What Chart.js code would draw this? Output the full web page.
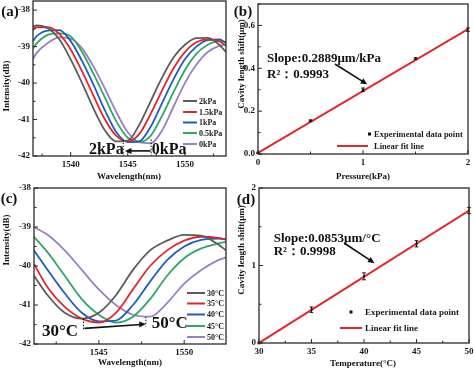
<!DOCTYPE html>
<html>
<head>
<meta charset="utf-8">
<script src="https://cdn.jsdelivr.net/npm/chart.js@4.4.1/dist/chart.umd.min.js"></script>
<style>
  html, body { margin: 0; padding: 0; background: #fff; }
  #wrap { position: relative; width: 474px; height: 370px; overflow: hidden; }
  #wrap canvas { position: absolute; left: 0; top: 0; }
</style>
</head>
<body>
<div id="wrap">
  <canvas id="pa" width="474" height="370"></canvas>
  <canvas id="pb" width="474" height="370"></canvas>
  <canvas id="pc" width="474" height="370"></canvas>
  <canvas id="pd" width="474" height="370"></canvas>
</div>
<script>
var FONT = '"Liberation Serif", "Times New Roman", serif';

// (a) spectra under pressure
var wlA = [1536.7, 1537, 1538, 1539, 1540, 1541, 1542, 1543, 1544, 1545, 1546, 1547, 1548, 1549, 1550, 1551, 1552, 1553, 1553.6];
var pressureLabels = ['2kPa', '1.5kPa', '1kPa', '0.5kPa', '0kPa'];
var pa2  = [-38.45, -38.42, -38.5, -38.8, -39.35, -40.0, -40.7, -41.3, -41.6, -41.58, -41.15, -40.5, -39.85, -39.3, -38.95, -38.77, -38.76, -38.95, -39.15];
var pa15 = [-38.55, -38.47, -38.47, -38.65, -39.08, -39.68, -40.35, -41.0, -41.45, -41.6, -41.4, -40.85, -40.2, -39.6, -39.15, -38.88, -38.8, -38.85, -38.98];
var pa1  = [-38.85, -38.72, -38.56, -38.55, -38.85, -39.4, -40.05, -40.75, -41.35, -41.62, -41.6, -41.2, -40.55, -39.9, -39.35, -39.0, -38.82, -38.8, -38.9];
var pa05 = [-39.05, -38.92, -38.68, -38.64, -38.72, -39.15, -39.75, -40.4, -41.05, -41.5, -41.62, -41.45, -40.9, -40.25, -39.65, -39.2, -38.95, -38.85, -38.87];
var pa0  = [-39.35, -39.18, -38.9, -38.75, -38.78, -39.05, -39.55, -40.15, -40.8, -41.35, -41.62, -41.65, -41.3, -40.65, -40.0, -39.5, -39.15, -38.98, -38.95];
var xTicksA = [1540, 1545, 1550];
var yTicksA = [-42, -41, -40, -39, -38];

// (b) cavity shift vs pressure
var pressure = [0, 0.5, 1, 1.5, 2];
var shiftP = [0.005, 0.155, 0.300, 0.445, 0.580];
var errP = [0.003, 0.004, 0.008, 0.004, 0.008];
var fitPx = [0, 2];
var fitPy = [0.005, 0.583];
var xTicksB = [0, 1, 2];
var yTicksB = [0, 0.2, 0.4, 0.6];

// (c) spectra under temperature
var wlC = [1541.2, 1542, 1543, 1544, 1545, 1546, 1547, 1548, 1549, 1550, 1551, 1552, 1552.45];
var tempLabels = ['30°C', '35°C', '40°C', '45°C', '50°C'];
var tc30 = [-40.25, -40.75, -41.2, -41.35, -41.2, -40.75, -40.1, -39.6, -39.35, -39.2, -39.22, -39.45, -39.6];
var tc35 = [-39.95, -40.55, -41.05, -41.35, -41.45, -41.2, -40.6, -40.0, -39.6, -39.35, -39.25, -39.28, -39.32];
var tc40 = [-39.6, -40.1, -40.7, -41.2, -41.42, -41.4, -41.0, -40.4, -39.85, -39.5, -39.33, -39.3, -39.32];
var tc45 = [-39.25, -39.65, -40.25, -40.85, -41.25, -41.45, -41.3, -40.85, -40.25, -39.8, -39.55, -39.42, -39.38];
var tc50 = [-39.0, -39.2, -39.6, -40.1, -40.6, -41.0, -41.25, -41.3, -40.95, -40.45, -40.1, -39.85, -39.78];
var xTicksC = [1545, 1550];
var yTicksC = [-42, -41, -40, -39, -38];

// (d) cavity shift vs temperature
var temps = [30, 35, 40, 45, 50];
var shiftT = [0, 0.43, 0.86, 1.28, 1.71];
var errT = [0.01, 0.035, 0.045, 0.04, 0.04];
var fitTx = [30, 50];
var fitTy = [0, 1.71];
var xTicksD = [30, 35, 40, 45, 50];
var yTicksD = [0, 1, 2];

var lineColors = ['#5c5c5c', '#e3262b', '#1f5cbf', '#2ea66a', '#9a80c3'];
var RED = '#e3262b';

function pts(xs, ys) {
  return xs.map(function (x, i) { return { x: x, y: ys[i] }; });
}

function bold(size) { return 'bold ' + size + 'px ' + FONT; }

function axes(xr, yr, xt, yt, xh, yw, xfmt, yfmt) {
  var tickFont = { family: FONT, weight: 'bold', size: 9 };
  return {
    x: {
      type: 'linear', min: xr[0], max: xr[1],
      afterBuildTicks: function (s) { s.ticks = xt.map(function (v) { return { value: v }; }); },
      afterFit: function (s) { s.height = xh; s.paddingLeft = 0; s.paddingRight = 0; },
      grid: { display: false, drawTicks: false }, border: { display: false },
      ticks: { padding: 3, color: '#1a1a1a', font: tickFont, maxRotation: 0, autoSkip: false, callback: xfmt }
    },
    y: {
      type: 'linear', min: yr[0], max: yr[1],
      afterBuildTicks: function (s) { s.ticks = yt.map(function (v) { return { value: v }; }); },
      afterFit: function (s) { s.width = yw; s.paddingTop = 0; s.paddingBottom = 0; },
      grid: { display: false, drawTicks: false }, border: { display: false },
      ticks: { padding: 3, color: '#1a1a1a', font: tickFont, autoSkip: false, callback: yfmt }
    }
  };
}

function arrow(ctx, x1, y1, x2, y2) {
  var ang = Math.atan2(y2 - y1, x2 - x1), L = 6.5, W = 3;
  ctx.beginPath();
  ctx.moveTo(x1, y1);
  ctx.lineTo(x2 - L * 0.7 * Math.cos(ang), y2 - L * 0.7 * Math.sin(ang));
  ctx.stroke();
  ctx.beginPath();
  ctx.moveTo(x2, y2);
  ctx.lineTo(x2 - L * Math.cos(ang) + W * Math.sin(ang), y2 - L * Math.sin(ang) - W * Math.cos(ang));
  ctx.lineTo(x2 - L * Math.cos(ang) - W * Math.sin(ang), y2 - L * Math.sin(ang) + W * Math.cos(ang));
  ctx.closePath();
  ctx.fill();
}

// frame, inward ticks, error bars, legends and notes
var deco = {
  id: 'deco',
  afterDatasetsDraw: function (chart, args, o) {
    var ctx = chart.ctx, a = chart.chartArea, sx = chart.scales.x, sy = chart.scales.y;
    ctx.save();
    ctx.strokeStyle = '#111'; ctx.fillStyle = '#111';

    if (o.err) {
      ctx.lineWidth = 1;
      o.err.x.forEach(function (xv, i) {
        var px = sx.getPixelForValue(xv);
        var p1 = sy.getPixelForValue(o.err.y[i] - o.err.e[i]);
        var p2 = sy.getPixelForValue(o.err.y[i] + o.err.e[i]);
        ctx.beginPath();
        ctx.moveTo(px, p1); ctx.lineTo(px, p2);
        ctx.moveTo(px - 1.8, p1); ctx.lineTo(px + 1.8, p1);
        ctx.moveTo(px - 1.8, p2); ctx.lineTo(px + 1.8, p2);
        ctx.stroke();
      });
    }

    ctx.strokeStyle = '#2a2a2a';
    ctx.lineWidth = 1.3;
    ctx.strokeRect(a.left, a.top, a.right - a.left, a.bottom - a.top);

    ctx.lineWidth = 1;
    function ticks(scale, step, horiz) {
      var start = Math.ceil((scale.min - 1e-9) / step) * step;
      for (var v = start; v <= scale.max + 1e-9; v += step) {
        var major = scale.ticks.some(function (t) { return Math.abs(t.value - v) < 1e-6; });
        var len = major ? 4 : 2.5;
        var p = scale.getPixelForValue(v);
        ctx.beginPath();
        if (horiz) { ctx.moveTo(p, a.bottom); ctx.lineTo(p, a.bottom - len); }
        else { ctx.moveTo(a.left, p); ctx.lineTo(a.left + len, p); }
        ctx.stroke();
      }
    }
    ticks(sx, o.xMinor, true);
    ticks(sy, o.yMinor, false);

    ctx.strokeStyle = '#111';
    (o.dotted || []).forEach(function (d) {
      ctx.save();
      ctx.setLineDash([1.5, 1.5]);
      ctx.lineWidth = 1;
      var px = sx.getPixelForValue(d[0]);
      ctx.beginPath();
      ctx.moveTo(px, sy.getPixelForValue(d[1]));
      ctx.lineTo(px, sy.getPixelForValue(d[2]));
      ctx.stroke();
      ctx.restore();
    });

    ctx.lineWidth = 1.6;
    (o.arrows || []).forEach(function (r) {
      arrow(ctx, sx.getPixelForValue(r[0]), sy.getPixelForValue(r[1]),
        sx.getPixelForValue(r[2]), sy.getPixelForValue(r[3]));
    });

    ctx.textAlign = 'left';
    ctx.textBaseline = 'alphabetic';
    (o.notes || []).forEach(function (n) {
      ctx.font = bold(n.size);
      ctx.fillText(n.t, sx.getPixelForValue(n.x), sy.getPixelForValue(n.y));
    });

    if (o.legend) {
      var L = o.legend;
      ctx.font = bold(L.size);
      ctx.textBaseline = 'middle';
      L.rows.forEach(function (ry, i) {
        var ds = chart.data.datasets[L.order[i]];
        if (ds.showLine) {
          ctx.strokeStyle = ds.borderColor;
          ctx.lineWidth = 2;
          ctx.beginPath(); ctx.moveTo(L.x1, ry); ctx.lineTo(L.x2, ry); ctx.stroke();
        } else {
          ctx.fillStyle = '#111';
          ctx.fillRect((L.x1 + L.x2) / 2 - 1.5 + (L.dotShift || 0), ry - 1.5, 3, 3);
        }
        ctx.fillStyle = '#1a1a1a';
        ctx.fillText(ds.label, L.tx, ry + 0.5);
      });
    }

    ctx.fillStyle = '#111';
    ctx.textBaseline = 'middle';
    ctx.textAlign = 'center';
    (o.labels || []).forEach(function (l) {
      ctx.save();
      ctx.font = bold(l.size);
      ctx.translate(l.x, l.y);
      if (l.rot) ctx.rotate(-Math.PI / 2);
      ctx.fillText(l.t, 0, 0);
      ctx.restore();
    });
    ctx.restore();
  }
};

function curveSets(xs, series, names) {
  return series.map(function (s, i) {
    return {
      label: names[i], data: pts(xs, s), showLine: true,
      borderColor: lineColors[i], borderWidth: 1.8, pointRadius: 0,
      cubicInterpolationMode: 'monotone'
    };
  });
}

function base(pad, scales, decoOpts, datasets) {
  return {
    type: 'scatter',
    data: { datasets: datasets },
    options: {
      responsive: false, animation: false, events: [],
      layout: { padding: pad },
      scales: scales,
      plugins: { legend: { display: false }, tooltip: { enabled: false }, deco: decoOpts }
    },
    plugins: [deco]
  };
}

var fmtInt = function (v) { return String(v); };
var fmtOne = function (v) { return v.toFixed(1); };

// (a)
new Chart(document.getElementById('pa'), base(
  { left: 0, top: 1, right: 248, bottom: 185 },
  axes([1536.7, 1553.6], [-42, -37.75], xTicksA, yTicksA, 29, 33, fmtInt, fmtInt),
  {
    xMinor: 2.5, yMinor: 0.5,
    dotted: [[1544.6, -41.55, -41.98], [1547.05, -41.55, -41.98]],
    arrows: [[1547.0, -41.86, 1544.75, -41.86]],
    notes: [
      { t: '2kPa', x: 1541.6, y: -41.95, size: 16 },
      { t: '0kPa', x: 1547.1, y: -41.95, size: 16 }
    ],
    legend: { x1: 183, x2: 197, tx: 199, size: 8, rows: [101, 112, 122.5, 133, 144], order: [0, 1, 2, 3, 4] },
    labels: [
      { t: '(a)', x: 10, y: 12, size: 15 },
      { t: 'Wavelength(nm)', x: 129, y: 177, size: 9 },
      { t: 'Intensity(dB)', x: 7, y: 86, size: 9, rot: true }
    ]
  },
  curveSets(wlA, [pa2, pa15, pa1, pa05, pa0], pressureLabels)
));

// (b)
new Chart(document.getElementById('pb'), base(
  { left: 237, top: 1, right: 6, bottom: 187 },
  axes([0, 2], [0, 0.7], xTicksB, yTicksB, 29, 21, fmtInt, fmtOne),
  {
    xMinor: 0.5, yMinor: 0.1,
    err: { x: pressure, y: shiftP, e: errP },
    arrows: [[0.733, 0.42, 1.04, 0.325]],
    notes: [
      { t: 'Slope:0.2889μm/kPa', x: 0.086, y: 0.43, size: 13 },
      { t: 'R²：0.9993', x: 0.086, y: 0.357, size: 13 }
    ],
    legend: { x1: 337, x2: 368, tx: 374, size: 8.5, rows: [134, 146], order: [0, 1], dotShift: 17 },
    labels: [
      { t: '(b)', x: 243, y: 12, size: 15 },
      { t: 'Pressure(kPa)', x: 363, y: 177, size: 9 },
      { t: 'Cavity length shift(μm)', x: 242, y: 64, size: 9, rot: true }
    ]
  },
  [
    { label: 'Experimental data point', data: pts(pressure, shiftP), pointStyle: 'rect',
      pointRadius: 1.6, backgroundColor: '#111', borderColor: '#111', borderWidth: 0 },
    { label: 'Linear fit line', data: pts(fitPx, fitPy), showLine: true, borderColor: RED,
      borderWidth: 2, pointRadius: 0 }
  ]
));

// (c)
new Chart(document.getElementById('pc'), base(
  { left: 0, top: 188, right: 248, bottom: 0 },
  axes([1541.2, 1552.45], [-42, -38], xTicksC, yTicksC, 26, 34, fmtInt, fmtInt),
  {
    xMinor: 2.5, yMinor: 0.5,
    dotted: [[1544.1, -41.35, -41.62], [1547.75, -41.3, -41.55]],
    arrows: [[1544.15, -41.6, 1547.75, -41.49]],
    notes: [
      { t: '30°C', x: 1541.67, y: -41.79, size: 17 },
      { t: '50°C', x: 1548.1, y: -41.59, size: 17 }
    ],
    legend: { x1: 187, x2: 205, tx: 207, size: 8, rows: [293, 303.5, 314.5, 326, 337], order: [0, 1, 2, 3, 4] },
    labels: [
      { t: '(c)', x: 9, y: 199, size: 15 },
      { t: 'Wavelength(nm)', x: 130, y: 363, size: 9 },
      { t: 'Intensity(dB)', x: 7, y: 240, size: 9, rot: true }
    ]
  },
  curveSets(wlC, [tc30, tc35, tc40, tc45, tc50], tempLabels)
));

// (d)
new Chart(document.getElementById('pd'), base(
  { left: 237, top: 188, right: 5, bottom: 0 },
  axes([30, 50], [0, 2], xTicksD, yTicksD, 27, 22, fmtInt, fmtInt),
  {
    xMinor: 2.5, yMinor: 0.5,
    err: { x: temps, y: shiftT, e: errT },
    arrows: [[38.1, 1.29, 41.0, 1.03]],
    notes: [
      { t: 'Slope:0.0853μm/°C', x: 31.4, y: 1.30, size: 13 },
      { t: 'R²：0.9998', x: 31.4, y: 1.14, size: 13 }
    ],
    legend: { x1: 340, x2: 362, tx: 365, size: 9, rows: [312, 328], order: [0, 1], dotShift: 0 },
    labels: [
      { t: '(d)', x: 246, y: 200, size: 15 },
      { t: 'Temperature(°C)', x: 363, y: 364, size: 9 },
      { t: 'Cavity length shift(μm)', x: 242, y: 250, size: 9, rot: true }
    ]
  },
  [
    { label: 'Experimental data point', data: pts(temps, shiftT), pointStyle: 'rect',
      pointRadius: 1.4, backgroundColor: '#111', borderColor: '#111', borderWidth: 0 },
    { label: 'Linear fit line', data: pts(fitTx, fitTy), showLine: true, borderColor: RED,
      borderWidth: 2, pointRadius: 0 }
  ]
));
</script>
</body>
</html>
